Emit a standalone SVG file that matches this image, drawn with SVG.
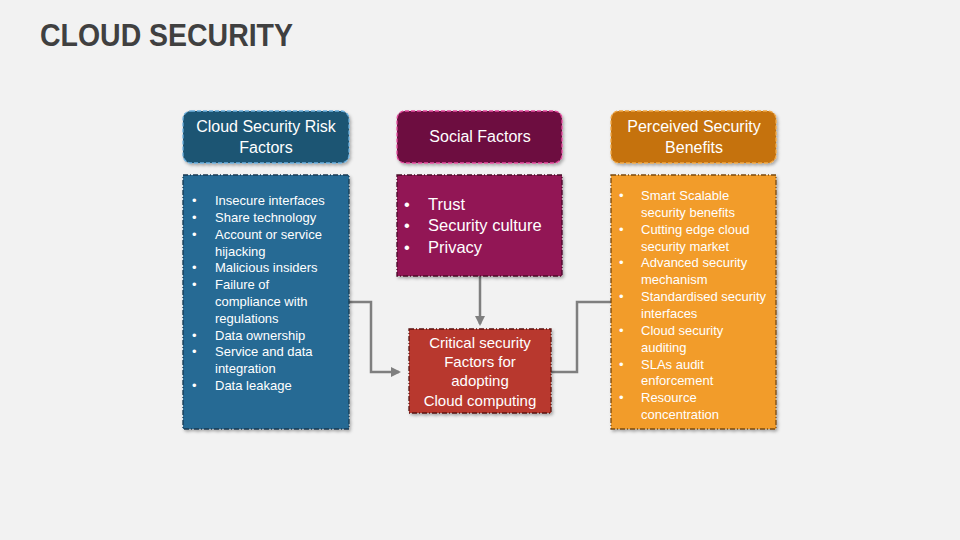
<svg xmlns="http://www.w3.org/2000/svg" width="960" height="540" viewBox="0 0 960 540">
  <defs>
    <filter id="sh" x="-10%" y="-10%" width="125%" height="125%">
      <feDropShadow dx="1.5" dy="2" stdDeviation="1.5" flood-color="#000" flood-opacity="0.3"/>
    </filter>
    <marker id="arr" viewBox="0 0 10 10" refX="8" refY="5" markerWidth="4" markerHeight="4" orient="auto" markerUnits="strokeWidth">
      <path d="M0,0 L10,5 L0,10 z" fill="#7f7f7f"/>
    </marker>
    <style>
      text { font-family: "Liberation Sans", Arial, sans-serif; fill: #ffffff; }
      .title { font-size: 31px; font-weight: bold; fill: #404040; }
      .hd { font-size: 16px; text-anchor: middle; }
      .li { font-size: 13px; }
      .lm { font-size: 16.5px; }
      .ctr { font-size: 15px; text-anchor: middle; }
      .hbox { stroke-width: 1.3; stroke-dasharray: 4 2; filter: url(#sh); }
      .bbox { stroke-width: 1.3; stroke-dasharray: 5 2 1 2; filter: url(#sh); }
      .conn { fill: none; stroke: #7f7f7f; stroke-width: 2.5; }
    </style>
  </defs>
  <rect width="960" height="540" fill="#f2f2f2"/>
  <text class="title" x="40" y="46" textLength="253" lengthAdjust="spacingAndGlyphs">CLOUD SECURITY</text>

  <g id="connectors">
    <polyline class="conn" points="349,302 371,302 371,372 399,372" marker-end="url(#arr)"/>
    <polyline class="conn" points="480,276 480,324" marker-end="url(#arr)"/>
    <polyline class="conn" points="551,372 577,372 577,302 611,302"/>
  </g>

  <g id="risk-header">
    <rect class="hbox" x="183" y="111" width="166" height="52" rx="8" fill="#1f5573" stroke="#6cb0de"/>
    <text class="hd" x="266" y="132">Cloud Security Risk</text>
    <text class="hd" x="266" y="153">Factors</text>
  </g>
  <g id="social-header">
    <rect class="hbox" x="397" y="111" width="165" height="52" rx="8" fill="#6d1040" stroke="#e54ea0"/>
    <text class="hd" x="480" y="142">Social Factors</text>
  </g>
  <g id="benefits-header">
    <rect class="hbox" x="611" y="111" width="165" height="52" rx="8" fill="#c5720c" stroke="#f0a848"/>
    <text class="hd" x="694" y="132">Perceived Security</text>
    <text class="hd" x="694" y="153">Benefits</text>
  </g>

  <g id="risk-list">
    <rect class="bbox" x="183" y="175" width="166" height="254" fill="#286b94" stroke="#173a52"/>
    <g class="li">
      <text x="192" y="205">•</text><text x="215" y="205">Insecure interfaces</text>
      <text x="192" y="222">•</text><text x="215" y="222">Share technology</text>
      <text x="192" y="239">•</text><text x="215" y="239">Account or service</text>
      <text x="215" y="256">hijacking</text>
      <text x="192" y="272">•</text><text x="215" y="272">Malicious insiders</text>
      <text x="192" y="289">•</text><text x="215" y="289">Failure of</text>
      <text x="215" y="306">compliance with</text>
      <text x="215" y="323">regulations</text>
      <text x="192" y="340">•</text><text x="215" y="340">Data ownership</text>
      <text x="192" y="356">•</text><text x="215" y="356">Service and data</text>
      <text x="215" y="373">integration</text>
      <text x="192" y="390">•</text><text x="215" y="390">Data leakage</text>
    </g>
  </g>

  <g id="social-list">
    <rect class="bbox" x="397" y="175" width="165" height="101" fill="#921655" stroke="#4a0a28"/>
    <g class="lm">
      <text x="404" y="210">•</text><text x="428" y="210">Trust</text>
      <text x="404" y="231">•</text><text x="428" y="231">Security culture</text>
      <text x="404" y="253">•</text><text x="428" y="253">Privacy</text>
    </g>
  </g>

  <g id="benefits-list">
    <rect class="bbox" x="611" y="175" width="165" height="254" fill="#f29c2c" stroke="#7a4a10"/>
    <g class="li">
      <text x="619" y="200">•</text><text x="641" y="200">Smart Scalable</text>
      <text x="641" y="217">security benefits</text>
      <text x="619" y="234">•</text><text x="641" y="234">Cutting edge cloud</text>
      <text x="641" y="251">security market</text>
      <text x="619" y="267">•</text><text x="641" y="267">Advanced security</text>
      <text x="641" y="284">mechanism</text>
      <text x="619" y="301">•</text><text x="641" y="301">Standardised security</text>
      <text x="641" y="318">interfaces</text>
      <text x="619" y="335">•</text><text x="641" y="335">Cloud security</text>
      <text x="641" y="352">auditing</text>
      <text x="619" y="369">•</text><text x="641" y="369">SLAs audit</text>
      <text x="641" y="385">enforcement</text>
      <text x="619" y="402">•</text><text x="641" y="402">Resource</text>
      <text x="641" y="419">concentration</text>
    </g>
  </g>

  <g id="critical-factors">
    <rect class="bbox" x="409" y="329" width="142" height="84" fill="#b8382e" stroke="#5a1410"/>
    <text class="ctr" x="480" y="348">Critical security</text>
    <text class="ctr" x="480" y="367">Factors for</text>
    <text class="ctr" x="480" y="386">adopting</text>
    <text class="ctr" x="480" y="406">Cloud computing</text>
  </g>
</svg>
